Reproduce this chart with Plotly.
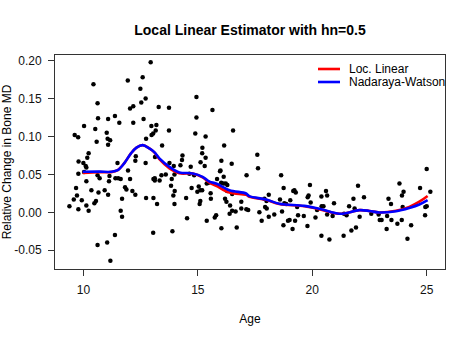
import plotly.graph_objects as go

# ---- scatter data: Age vs relative change in bone mineral density ----
age = [
    12.94, 10.44, 11.94, 12.59, 12.49, 10.62, 12.53, 12.18, 12.04, 12.72,
    10.64, 11.08, 11.38, 11.57, 12.18, 12.63, 12.97, 10.03, 10.52, 11.02,
    9.62, 9.77, 10.58, 11.06, 11.17, 11.08, 13.05, 12.98, 12.74, 10.23,
    10.17, 9.79, 10.00, 10.10, 10.13, 12.29, 12.27, 12.72, 11.49, 9.78,
    10.03, 10.62, 10.71, 11.14, 11.40, 11.52, 11.63, 11.12, 10.13, 11.95,
    12.04, 13.06, 9.68, 10.35, 10.66, 10.93, 11.82, 11.88, 12.14, 12.27,
    11.08, 9.58, 9.72, 9.93, 10.55, 10.48, 11.69, 12.74, 13.06, 9.39,
    9.78, 10.13, 10.23, 11.63, 11.69, 11.38, 10.62, 11.04, 11.18, 13.05,
    14.94, 13.29, 13.74, 15.64, 14.94, 13.19, 13.16, 13.74, 14.89, 15.34,
    16.54, 13.44, 16.15, 15.20, 15.19, 15.34, 14.33, 14.31, 13.13, 13.76,
    14.24, 14.69, 15.12, 15.30, 16.03, 16.48, 15.99, 16.13, 13.95, 13.12,
    13.12, 13.41, 13.33, 13.60, 13.86, 13.98, 14.63, 14.84, 13.83, 13.99,
    13.93, 13.98, 14.73, 15.04, 14.98, 15.11, 15.19, 15.11, 15.08, 14.49,
    15.39, 15.47, 15.56, 15.57, 15.84, 15.97, 16.02, 16.12, 16.22, 16.29,
    16.28, 16.19, 16.25, 16.41, 16.50, 16.39, 16.50, 16.65, 16.90, 16.90,
    17.13, 17.12, 17.20, 14.53, 15.39, 15.74, 15.80, 16.03, 16.70, 13.89,
    13.22,
    17.60, 17.63, 18.64, 18.75, 19.90, 20.60, 20.65, 20.40, 19.17, 19.28,
    19.22, 19.84, 19.80, 18.10, 18.59, 19.04, 17.91, 18.00, 18.78, 18.86,
    19.93, 20.95, 20.41, 20.49, 19.34, 19.38, 19.63, 17.69, 17.94, 18.01,
    18.68, 18.34, 18.10, 17.79, 18.94, 19.01, 19.25, 18.74, 19.14, 19.79,
    20.14, 20.21, 20.65, 20.89, 20.40, 20.75, 21.37, 21.39,
    25.00, 23.81, 24.71, 25.16, 23.99, 22.00, 22.26, 21.80, 23.33, 23.92,
    23.44, 21.61, 21.85, 23.95, 24.94, 25.00, 24.93, 21.50, 22.07, 22.58,
    22.90, 23.27, 22.95, 23.03, 23.46, 23.91, 23.72, 23.25, 24.32, 21.91,
    21.71, 24.16,
]
rel_change = [
    0.198, 0.169, 0.174, 0.178, 0.163, 0.144, 0.145, 0.140, 0.137, 0.150,
    0.124, 0.123, 0.127, 0.118, 0.118, 0.123, 0.114, 0.114, 0.110, 0.105,
    0.102, 0.099, 0.093, 0.097, 0.095, 0.089, 0.104, 0.102, 0.097, 0.078,
    0.072, 0.067, 0.065, 0.061, 0.059, 0.074, 0.068, 0.065, 0.065, 0.051,
    0.053, 0.049, 0.045, 0.048, 0.045, 0.045, 0.044, 0.041, 0.041, 0.055,
    0.044, 0.044, 0.032, 0.029, 0.026, 0.029, 0.033, 0.030, 0.028, 0.023,
    0.023, 0.017, 0.022, 0.016, 0.015, 0.012, 0.018, 0.019, 0.019, 0.008,
    0.004, 0.009, 0.002, 0.002, -0.006, -0.030, -0.043, -0.040, -0.064, -0.027,
    0.152, 0.139, 0.138, 0.135, 0.125, 0.115, 0.108, 0.108, 0.104, 0.100,
    0.108, 0.088, 0.088, 0.085, 0.078, 0.072, 0.075, 0.069, 0.073, 0.065,
    0.062, 0.060, 0.066, 0.061, 0.068, 0.064, 0.055, 0.047, 0.061, 0.045,
    0.042, 0.049, 0.042, 0.050, 0.044, 0.050, 0.051, 0.049, 0.035, 0.028,
    0.022, 0.011, 0.032, 0.034, 0.027, 0.029, 0.029, 0.015, 0.011, 0.019,
    0.038, 0.039, 0.025, 0.018, 0.044, 0.054, 0.039, 0.038, 0.038, 0.036,
    0.028, 0.018, 0.014, 0.009, 0.024, -0.002, 0.002, 0.001, 0.014, 0.005,
    0.049, 0.004, 0.003, -0.008, -0.011, -0.007, -0.004, -0.021, -0.020, -0.025,
    0.011,
    0.076, 0.058, 0.049, 0.032, 0.036, 0.028, 0.022, 0.021, 0.028, 0.026,
    0.029, 0.022, 0.020, 0.023, 0.017, 0.016, 0.018, 0.015, 0.012, 0.011,
    0.013, 0.012, 0.008, 0.008, 0.007, -0.004, -0.005, 0.000, 0.007, 0.005,
    0.001, -0.003, -0.006, -0.011, -0.011, -0.010, -0.011, -0.017, -0.022, -0.018,
    -0.007, 0.003, -0.003, -0.005, -0.031, -0.036, -0.031, -0.002,
    0.057, 0.038, 0.032, 0.027, 0.027, 0.035, 0.020, 0.018, 0.018, 0.022,
    0.011, 0.008, 0.005, 0.007, 0.007, 0.008, -0.004, -0.004, -0.006, -0.002,
    -0.003, -0.005, -0.010, -0.010, -0.010, -0.010, -0.015, -0.022, -0.017, -0.020,
    -0.024, -0.035,
]

# ---- fitted curves ----
curve_age = [9.97, 10.70, 11.21, 11.50, 11.79, 12.08, 12.32, 12.59, 12.88, 13.10,
             13.32, 13.76, 14.19, 14.78, 15.21, 15.51, 15.80, 16.38, 17.11, 17.25,
             17.98, 18.56, 19.66, 20.39, 21.11, 21.40, 22.06, 22.50, 22.93, 23.66,
             24.24, 24.68, 25.04]
loc_linear = [0.0520, 0.0530, 0.0530, 0.0556, 0.0649, 0.0777, 0.0853, 0.0886, 0.0843, 0.0790,
              0.0700, 0.0580, 0.0515, 0.0510, 0.0460, 0.0390, 0.0350, 0.0260, 0.0230, 0.0205,
              0.0165, 0.0110, 0.0080, 0.0035, -0.0018, -0.0016, 0.0028, 0.0018, -0.0003, 0.0020,
              0.0072, 0.0140, 0.0215]
nadaraya_watson = [0.0534, 0.0536, 0.0534, 0.0556, 0.0649, 0.0777, 0.0853, 0.0886, 0.0843, 0.0794,
                   0.0711, 0.0600, 0.0526, 0.0513, 0.0468, 0.0404, 0.0380, 0.0292, 0.0248, 0.0213,
                   0.0169, 0.0114, 0.0085, 0.0041, -0.0016, -0.0016, 0.0028, 0.0018, -0.0003, 0.0015,
                   0.0058, 0.0103, 0.0160]

x_ticks = [10, 15, 20, 25]
y_ticks = [-0.05, 0.00, 0.05, 0.10, 0.15, 0.20]
y_tick_labels = ["-0.05", "0.00", "0.05", "0.10", "0.15", "0.20"]
legend_labels = ["Loc. Linear", "Nadaraya-Watson"]

FONT = "Liberation Sans, Arial, sans-serif"

fig = go.Figure()
fig.add_trace(go.Scatter(x=age, y=rel_change, mode="markers",
                         marker=dict(color="black", size=4.5), showlegend=False,
                         hoverinfo="skip"))
fig.add_trace(go.Scatter(x=curve_age, y=loc_linear, mode="lines", name=legend_labels[0],
                         line=dict(color="#ff0000", width=2.6, shape="spline"),
                         showlegend=False))
fig.add_trace(go.Scatter(x=curve_age, y=nadaraya_watson, mode="lines", name=legend_labels[1],
                         line=dict(color="#0000ff", width=2.6, shape="spline"),
                         showlegend=False))

# manual legend (R-style, no box)
for i, (lab, col) in enumerate(zip(legend_labels, ["#ff0000", "#0000ff"])):
    ypix = 69 + 13 * i
    yp = 1 - (ypix - 55) / 214
    fig.add_shape(type="line", xref="paper", yref="paper",
                  x0=(318 - 55) / 390, x1=(340 - 55) / 390, y0=yp, y1=yp,
                  line=dict(color=col, width=2.6))
    fig.add_annotation(xref="paper", yref="paper", x=(347 - 55) / 390, y=yp,
                       xanchor="left", yanchor="middle", text=lab, showarrow=False,
                       font=dict(family=FONT, size=12, color="black"))

axis_common = dict(showgrid=False, zeroline=False, showline=True, mirror=True,
                   linecolor="#333333", linewidth=1, ticks="outside", ticklen=6,
                   tickcolor="#333333", automargin=False,
                   tickfont=dict(family=FONT, size=12, color="#111111"))

fig.update_layout(
    width=474, height=338,
    margin=dict(l=55, r=29, t=55, b=69, autoexpand=False),
    paper_bgcolor="white", plot_bgcolor="white",
    title=dict(text="<b>Local Linear Estimator with hn=0.5</b>", x=(250) / 474, xanchor="center",
               y=1 - 30 / 338, yanchor="middle", font=dict(family=FONT, size=14, color="black")),
    xaxis=dict(range=[8.76, 25.80], tickvals=x_ticks, ticklabelstandoff=4,
               title=dict(text="Age", standoff=18, font=dict(family=FONT, size=12, color="black")),
               **axis_common),
    yaxis=dict(range=[-0.0748, 0.2075], tickvals=y_ticks, ticktext=y_tick_labels,
               ticklabelstandoff=4,
               title=dict(text="Relative Change in Bone MD", standoff=2,
                          font=dict(family=FONT, size=12, color="black")),
               **axis_common),
    showlegend=False,
)

fig.write_html("out.html")
